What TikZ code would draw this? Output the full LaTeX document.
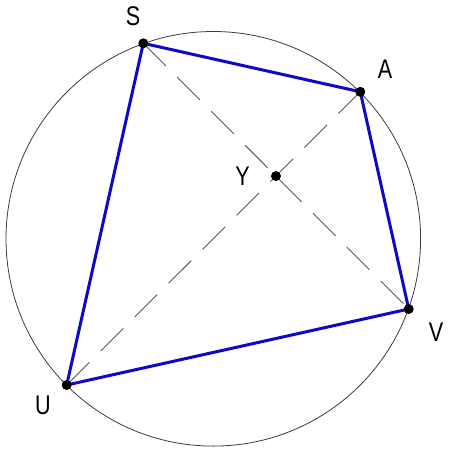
\documentclass[tikz,border=0pt]{standalone}
\usepackage{fontspec}
\newfontfamily\lblfont[FakeStretch=0.8]{Liberation Sans}
\definecolor{quadblue}{RGB}{10,10,200}
\definecolor{diaggray}{RGB}{90,90,90}
\definecolor{circgray}{RGB}{60,60,60}
\begin{document}
\begin{tikzpicture}[x=1pt,y=-1pt,
  quad/.style={draw=quadblue, line width=3pt, line join=round},
  diag/.style={draw=diaggray, line width=0.9pt, dash pattern=on 32pt off 16pt},
  circ/.style={draw=circgray, line width=0.8pt},
  dot/.style={circle, fill=black, inner sep=0pt, minimum size=10pt},
  lbl/.style={inner sep=0pt, text=black, font=\lblfont\fontsize{27}{27}\selectfont}]
\useasboundingbox (0,0) rectangle (450,455);
\coordinate (O) at (213.3,238.8);
\coordinate (S) at (143.3,43.3);
\coordinate (A) at (360.3,91.8);
\coordinate (V) at (408.7,309);
\coordinate (U) at (66.7,385);
\draw[circ] (O) circle[radius=207.3pt];
\draw[diag] (S) -- (V);
\draw[diag] (U) -- (A);
\coordinate (Y) at (intersection of S--V and U--A);
\draw[quad] (S) -- (A) -- (V) -- (U) -- cycle;
\node[dot] (dS) at (S) {};
\node[dot] (dA) at (A) {};
\node[dot] (dV) at (V) {};
\node[dot] (dU) at (U) {};
\node[dot] (dY) at (Y) {};
\node[lbl] (lS) at (133,16.3) {S};
\node[lbl] (lA) at (385,69.7) {A};
\node[lbl] (lY) at (242.5,176) {Y};
\node[lbl] (lV) at (436,332.5) {V};
\node[lbl] (lU) at (43,405.5) {U};
\end{tikzpicture}
\end{document}
